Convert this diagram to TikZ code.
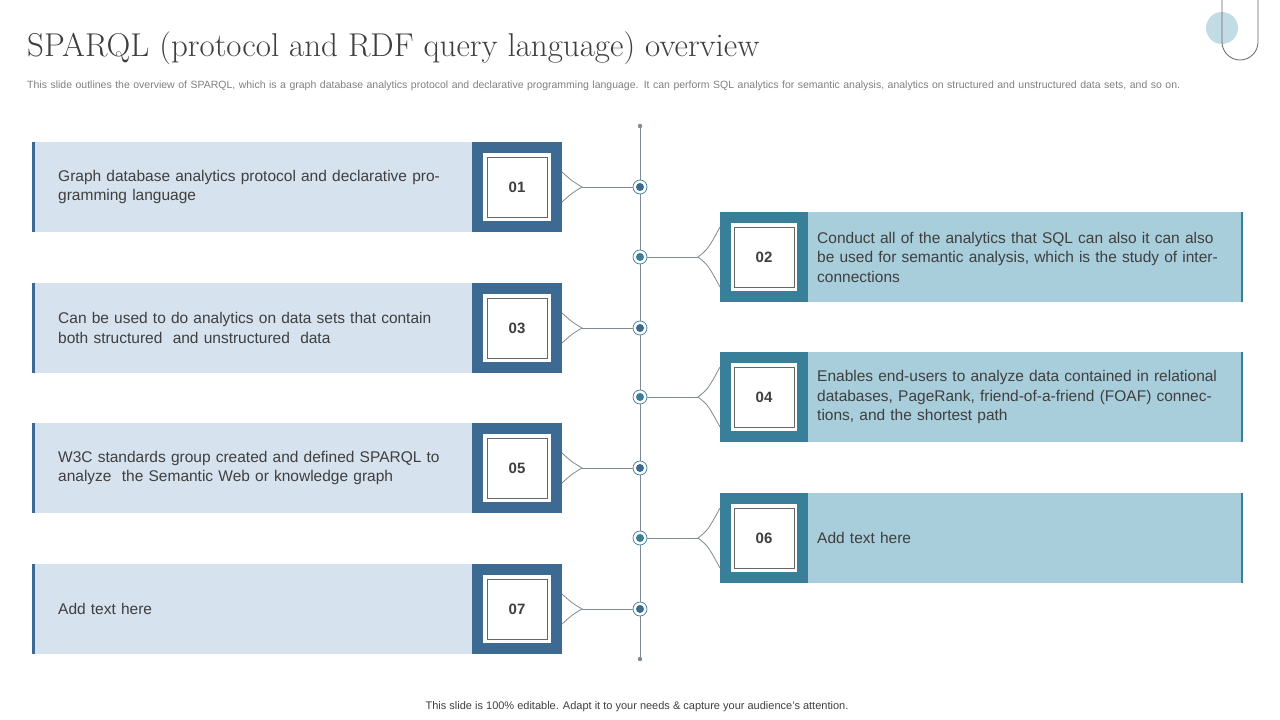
\documentclass[tikz,border=0pt]{standalone}
\usepackage{fontspec}
\setmainfont{Liberation Sans}
\newfontfamily\titlefont{Latin Modern Roman}
\definecolor{lband}{HTML}{D6E2EE}
\definecolor{lframe}{HTML}{3D6A93}
\definecolor{rband}{HTML}{A8CDDB}
\definecolor{rframe}{HTML}{3A7F99}
\definecolor{spine}{HTML}{7F8A93}
\definecolor{txt}{HTML}{3F3F3F}
\tikzset{
  band/.style={minimum width=#1, minimum height=90pt, inner sep=0pt, draw=none},
  numbox/.style={draw=gray!80!black, fill=white, line width=0.6pt, minimum size=60pt, inner sep=0pt, font=\fontsize{15}{15}\selectfont\bfseries, text=txt},
  btext/.style={text width=390pt, align=left, anchor=west, font=\fontsize{15.5}{19.5}\selectfont, text=txt, inner sep=0pt},
  dot/.style={circle, draw=rframe, fill=white, line width=0.7pt, minimum size=14pt, inner sep=0pt},
  link/.style={draw=spine, line width=0.8pt}
}
\begin{document}
\begin{tikzpicture}[x=1pt,y=-1pt]
\useasboundingbox (0,0) rectangle (1280,720);
% header
\node[anchor=west, inner sep=0pt, font=\titlefont\fontsize{33}{33}\selectfont, text=txt] (title) at (27,48) {SPARQL (protocol and RDF query language) overview};
\node[anchor=north west, inner sep=0pt, text width=1215pt, font=\fontsize{10.5}{13}\selectfont, text=gray] (sub) at (27,81) {This slide outlines the overview of SPARQL, which is a graph database analytics protocol and declarative programming language. It can perform SQL analytics for semantic analysis, analytics on structured and unstructured data sets, and so on.};
\node[font=\fontsize{11}{11}\selectfont, text=txt] (foot) at (637,707) {This slide is 100\% editable. Adapt it to your needs \& capture your audience’s attention.};
\fill[rband!70] (1222,28) circle (16);
\draw[txt!80, line width=0.8pt] (1222,0) -- (1222,42) arc (180:0:18) -- (1258,0);
% spine
\coordinate (top) at (640,126);
\coordinate (bot) at (640,659);
\draw[link] (top) -- (bot);
\fill[spine] (top) circle (2.2) (bot) circle (2.2);
% left rows
\foreach \n/\y/\t in {01/187/{Graph database analytics protocol and declarative programming language},
  03/328/{Can be used to do analytics on data sets that contain both structured\ \ and unstructured\ \ data},
  05/468/{W3C standards group created and defined SPARQL to analyze\ \ the Semantic Web or knowledge graph},
  07/609/{Add text here}}
{
  \fill[lband] (32,\y-45) rectangle (475,\y+45);
  \fill[lframe] (32,\y-45) rectangle (34.5,\y+45);
  \fill[lframe] (472,\y-45) rectangle (562,\y+45);
  \fill[white] (483,\y-34) rectangle (551,\y+34);
  \node[numbox] (n\n) at (517,\y) {\n};
  \node[btext] (t\n) at (58,\y) {\t};
  \node[dot] (d\n) at (640,\y) {};
  \fill[lframe] (d\n) circle (4);
  \coordinate (f\n) at (582,\y);
  \draw[link] (d\n) -- (f\n);
  \draw[link] (562,\y-15) .. controls (572,\y-6) .. (f\n) .. controls (572,\y+6) .. (562,\y+15);
}
% right rows
\foreach \n/\y/\t in {02/257/{Conduct all of the analytics that SQL can also it can also be used for semantic analysis, which is the study of interconnections},
  04/397/{Enables end-users to analyze data contained in relational databases, PageRank, friend-of-a-friend (FOAF) connections, and the shortest path},
  06/538/{Add text here}}
{
  \fill[rband] (805,\y-45) rectangle (1243,\y+45);
  \fill[rframe] (1240.5,\y-45) rectangle (1243,\y+45);
  \fill[rframe] (720,\y-45) rectangle (808,\y+45);
  \fill[white] (731,\y-34) rectangle (797,\y+34);
  \node[numbox] (n\n) at (764,\y) {\n};
  \node[btext, text width=405pt] (t\n) at (817,\y) {\t};
  \node[dot] (d\n) at (640,\y) {};
  \fill[rframe] (d\n) circle (4);
  \coordinate (f\n) at (698,\y);
  \draw[link] (d\n) -- (f\n);
  \draw[link] (720,\y-30) .. controls (708,\y-8) .. (f\n) .. controls (708,\y+8) .. (720,\y+30);
}
\end{tikzpicture}
\end{document}
